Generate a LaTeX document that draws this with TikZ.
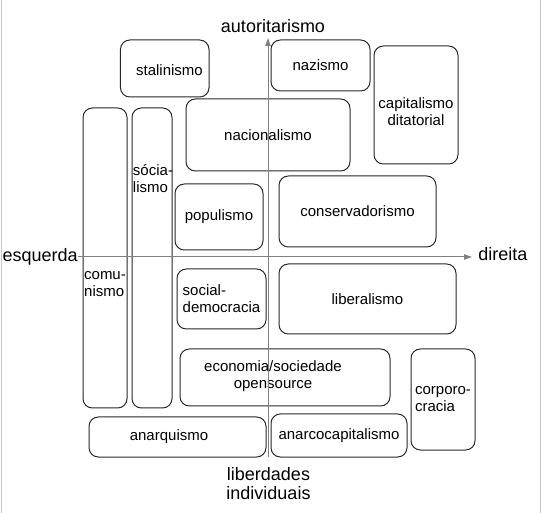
\documentclass[tikz,border=0pt]{standalone}
\usepackage{fontspec}
\setmainfont{Liberation Sans}
\usetikzlibrary{arrows.meta}

\begin{document}
\begin{tikzpicture}[x=0.75pt,y=-0.75pt,
    caixa/.style={draw=black!85,line width=0.75pt,rounded corners=7pt,inner sep=0pt,
      font=\fontsize{11.25}{12.75}\selectfont,align=center},
    rotulo/.style={inner sep=0pt,font=\fontsize{11.25}{12.75}\selectfont},
    eixo/.style={draw=black!50,line width=0.75pt,-{Triangle[length=6pt,width=4pt]}},
    titulo/.style={inner sep=0pt,font=\fontsize{13.5}{14.25}\selectfont,align=center}]
    \useasboundingbox (0,0) rectangle (543,513);
    \draw[black!22,line width=0.75pt] (1.5,0) -- (1.5,513);
    \draw[black!22,line width=0.75pt] (540.5,0) -- (540.5,513);

    % caixas de cima
    \node[caixa,minimum width=66.4pt,minimum height=42.75pt] (stal) at (164.75,68.5) {};
    \node[rotulo] (stal-txt) at (169.5,70) {stalinismo};
    \node[caixa,minimum width=74.25pt,minimum height=38.25pt] (naz) at (320.5,65.5) {nazismo};
    \node[caixa,minimum width=63pt,minimum height=88.5pt] (cap) at (416,105) {};
    \node[rotulo,align=center] (cap-txt) at (416,111.5) {capitalismo\\ditatorial};
    \node[caixa,minimum width=123pt,minimum height=54pt] (nac) at (268,135) {nacionalismo};
    \node[caixa,minimum width=66pt,minimum height=49.5pt] (pop) at (219,217) {populismo};
    \node[caixa,minimum width=117.75pt,minimum height=53.25pt] (cons) at (357.5,211.5) {conservadorismo};

    % caixas compridas da esquerda
    \node[caixa,minimum width=33pt,minimum height=225pt] (com) at (105,258) {};
    \node[rotulo,align=left] (com-txt) at (105,284) {comu-\\nismo};
    \node[caixa,minimum width=30pt,minimum height=225pt] (soc) at (152,258) {};
    \node[rotulo,align=left] (soc-txt) at (153,179) {sócia-\\lismo};

    % caixas de baixo
    \node[caixa,minimum width=66.75pt,minimum height=45pt,align=left] (socdem) at (221.5,299) {social-\\democracia};
    \node[caixa,minimum width=132.75pt,minimum height=52.5pt] (lib) at (367.5,299) {liberalismo};
    \node[caixa,minimum width=157.5pt,minimum height=42.75pt] (econ) at (285,377.5) {};
    \node[rotulo,align=center] (econ-txt) at (273,376.5) {economia/sociedade\\opensource};
    \node[caixa,minimum width=48pt,minimum height=75.75pt,align=left] (corp) at (443,399.5) {corporo-\\cracia};
    \node[caixa,minimum width=132.75pt,minimum height=30pt] (anarq) at (177.5,437) {};
    \node[rotulo] (anarq-txt) at (169,437) {anarquismo};
    \node[caixa,minimum width=102pt,minimum height=32.25pt] (anarcap) at (339,435.5) {anarcocapitalismo};

    % eixos
    \coordinate (esq) at (78,257);
    \coordinate (dir) at (472,257);
    \coordinate (baixo) at (268,457);
    \coordinate (cima) at (268,38);
    \draw[eixo] (esq) -- (dir);
    \draw[eixo] (baixo) -- (cima);
    \node[titulo,anchor=east] (esq-txt) at (esq) {esquerda};
    \node[titulo,anchor=base west] (dir-txt) at (478,261) {direita};
    \node[titulo,anchor=base] (aut-txt) at (273,33) {autoritarismo};
    \node[titulo,anchor=base] (lib-txt) at (268.5,499) {liberdades\\individuais};
  \end{tikzpicture}
\end{document}
